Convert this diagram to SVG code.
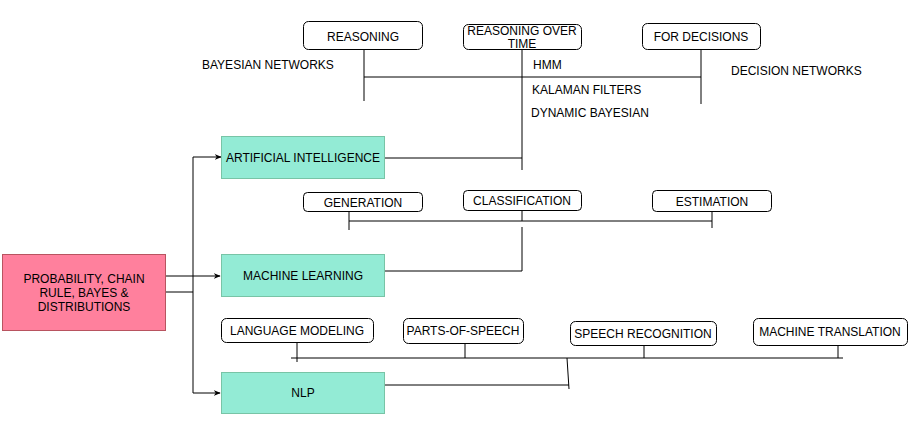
<svg xmlns="http://www.w3.org/2000/svg" width="920" height="426" viewBox="0 0 920 426">
<style>
text{font-family:"Liberation Sans",Arial,sans-serif;font-size:12px;fill:#000;text-anchor:middle}
.lbl{text-anchor:start}
.rb{fill:#fff;stroke:#000;stroke-width:1}
.mint{fill:#93EBD5;stroke:#78c4a6;stroke-width:1}
.pink{fill:#FF809D;stroke:#b85460;stroke-width:1}
.c{fill:none;stroke:#000;stroke-width:1}
</style>
<defs>
<marker id="arr" viewBox="0 0 10 10" refX="9" refY="5" markerWidth="7" markerHeight="7" orient="auto" markerUnits="userSpaceOnUse">
<path d="M0,1 L10,5 L0,9 L3,5 Z" fill="#000"/>
</marker>
</defs>
<rect width="920" height="426" fill="#fff"/>
<g id="connectors">
<path class="c" d="M166,276 H220" marker-end="url(#arr)"/>
<path class="c" d="M166,292 H193"/>
<path class="c" d="M193,393 V157 H221" marker-end="url(#arr)"/>
<path class="c" d="M193,393 H220" marker-end="url(#arr)"/>
<path class="c" d="M364,50 V101"/>
<path class="c" d="M364,77 H701"/>
<path class="c" d="M701,50 V104"/>
<path class="c" d="M522,50 V170"/>
<path class="c" d="M385,158 H522"/>
<path class="c" d="M349,221 H712"/>
<path class="c" d="M349,212 V230"/>
<path class="c" d="M712,212 V228"/>
<path class="c" d="M522,211 V221"/>
<path class="c" d="M522,227 V271 H385"/>
<path class="c" d="M291,358 H843"/>
<path class="c" d="M297,342 V362"/>
<path class="c" d="M465,343 V358"/>
<path class="c" d="M644,345 V358"/>
<path class="c" d="M838,345 V358"/>
<path class="c" d="M567,358 L569,389"/>
<path class="c" d="M385,385 H569"/>
</g>
<g id="probability">
<rect class="pink" x="2.5" y="254.5" width="163" height="76"/>
<text x="84" y="283">PROBABILITY, CHAIN</text>
<text x="84" y="297">RULE, BAYES &amp;</text>
<text x="84" y="311">DISTRIBUTIONS</text>
</g>
<g id="ai">
<rect class="mint" x="221.5" y="136.5" width="163" height="42"/>
<text x="303" y="162">ARTIFICIAL INTELLIGENCE</text>
</g>
<g id="ml">
<rect class="mint" x="221.5" y="254.5" width="163" height="42"/>
<text x="303" y="280">MACHINE LEARNING</text>
</g>
<g id="nlp">
<rect class="mint" x="221.5" y="372.5" width="163" height="41"/>
<text x="303" y="397">NLP</text>
</g>
<g id="reasoning">
<rect class="rb" x="303.5" y="21.5" width="119" height="28" rx="5"/>
<text x="363" y="41">REASONING</text>
</g>
<g id="reasoning-over-time">
<rect class="rb" x="463.5" y="24.5" width="118" height="25" rx="5"/>
<text x="522" y="35">REASONING OVER</text>
<text x="522" y="48">TIME</text>
</g>
<g id="for-decisions">
<rect class="rb" x="642.5" y="23.5" width="118" height="26" rx="5"/>
<text x="701" y="41">FOR DECISIONS</text>
</g>
<g id="labels-ai">
<text class="lbl" x="202" y="69">BAYESIAN NETWORKS</text>
<text class="lbl" x="533" y="69">HMM</text>
<text class="lbl" x="532" y="94">KALAMAN FILTERS</text>
<text class="lbl" x="531" y="117">DYNAMIC BAYESIAN</text>
<text class="lbl" x="731" y="75">DECISION NETWORKS</text>
</g>
<g id="generation">
<rect class="rb" x="303.5" y="192.5" width="119" height="19" rx="4"/>
<text x="363" y="207">GENERATION</text>
</g>
<g id="classification">
<rect class="rb" x="463.5" y="190.5" width="118" height="20" rx="4"/>
<text x="522" y="205">CLASSIFICATION</text>
</g>
<g id="estimation">
<rect class="rb" x="652.5" y="190.5" width="119" height="21" rx="4"/>
<text x="712" y="206">ESTIMATION</text>
</g>
<g id="language-modeling">
<rect class="rb" x="221.5" y="318.5" width="152" height="24" rx="5"/>
<text x="297" y="335">LANGUAGE MODELING</text>
</g>
<g id="parts-of-speech">
<rect class="rb" x="403.5" y="318.5" width="120" height="25" rx="5"/>
<text x="463" y="335">PARTS-OF-SPEECH</text>
</g>
<g id="speech-recognition">
<rect class="rb" x="570.5" y="321.5" width="146" height="24" rx="5"/>
<text x="643" y="338">SPEECH RECOGNITION</text>
</g>
<g id="machine-translation">
<rect class="rb" x="753.5" y="318.5" width="154" height="27" rx="5"/>
<text x="830" y="336">MACHINE TRANSLATION</text>
</g>
</svg>
